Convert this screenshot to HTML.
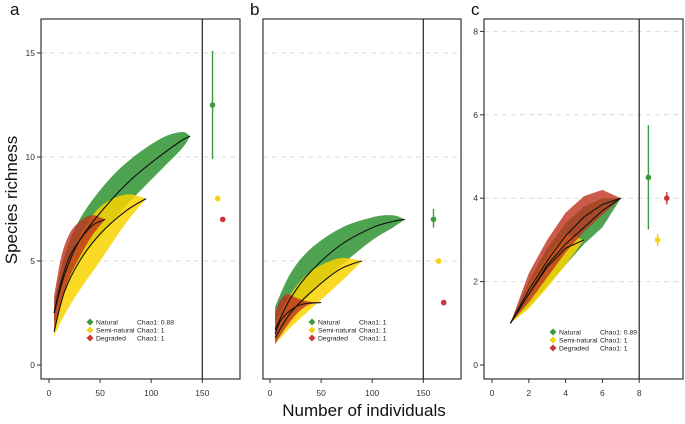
<!DOCTYPE html>
<html><head><meta charset="utf-8"><style>
body{margin:0;background:#fff;}
svg{display:block;font-family:"Liberation Sans",Arial,sans-serif;}
</style></head><body>
<svg id="chart" width="685" height="424" viewBox="0 0 685 424" xmlns="http://www.w3.org/2000/svg"></svg>
<script>
// ---------- data ----------
const groups = ["Natural", "Semi-natural", "Degraded"];
const chaoA = ["0.88", "1", "1"];
const chaoB = ["1", "1", "1"];
const chaoC = ["0.89", "1", "1"];
// Panel a
const aNatX = [5, 15, 30, 55, 80, 110, 130, 138];
const aNatMean = [2.5, 4.3, 6.0, 7.6, 8.9, 10.1, 10.8, 11];
const aNatUp = [3.0, 5.2, 7.0, 8.7, 9.9, 10.9, 11.2, 11];
const aNatLo = [2.0, 3.5, 5.0, 6.5, 7.9, 9.4, 10.4, 11];
const aSemX = [5, 15, 30, 50, 75, 95];
const aSemMean = [1.6, 3.5, 5.0, 6.3, 7.4, 8];
const aSemUp = [1.8, 4.5, 6.2, 7.6, 8.2, 8];
const aSemLo = [1.4, 2.4, 3.6, 5.0, 6.8, 8];
const aDegX = [5, 12, 20, 30, 42, 55];
const aDegMean = [2.5, 4.0, 5.2, 6.0, 6.7, 7];
const aDegUp = [3.3, 5.2, 6.3, 6.9, 7.2, 7];
const aDegLo = [1.7, 3.0, 4.2, 5.2, 6.2, 7];
const aEstX = [160, 165, 170];
const aEst = [12.5, 8, 7];
const aEstLo = [9.9, 8, 7];
const aEstHi = [15.1, 8, 7];
// Panel b
const bNatX = [5, 20, 40, 70, 100, 120, 132];
const bNatMean = [1.7, 3.2, 4.5, 5.8, 6.6, 6.9, 7];
const bNatUp = [2.8, 4.4, 5.6, 6.6, 7.1, 7.2, 7];
const bNatLo = [1.2, 2.3, 3.4, 4.8, 6.0, 6.6, 7];
const bSemX = [5, 20, 40, 65, 80, 90];
const bSemMean = [1.3, 2.5, 3.5, 4.5, 4.85, 5];
const bSemUp = [2.0, 3.4, 4.5, 5.1, 5.1, 5];
const bSemLo = [1.0, 1.8, 2.7, 3.8, 4.5, 5];
const bDegX = [5, 10, 17, 27, 38, 50];
const bDegMean = [1.5, 2.1, 2.5, 2.85, 2.97, 3];
const bDegUp = [2.5, 3.1, 3.4, 3.2, 3.05, 3];
const bDegLo = [1.0, 1.4, 1.9, 2.5, 2.9, 3];
const bEstX = [160, 165, 170];
const bEst = [7, 5, 3];
const bEstLo = [6.6, 5, 3];
const bEstHi = [7.5, 5, 3];
// Panel c
const cNatX = [1, 2, 3, 4, 5, 6, 7];
const cNatMean = [1, 1.8, 2.5, 3.1, 3.55, 3.85, 4];
const cNatUp = [1, 2.0, 2.8, 3.4, 3.8, 4.0, 4];
const cNatLo = [1, 1.4, 1.9, 2.4, 2.9, 3.3, 4];
const cSemX = [1, 2, 3, 4, 5];
const cSemMean = [1, 1.7, 2.35, 2.8, 3];
const cSemUp = [1, 1.9, 2.6, 3.15, 3];
const cSemLo = [1, 1.35, 1.85, 2.4, 3];
const cDegX = [1, 2, 3, 4, 5, 6, 7];
const cDegMean = [1, 1.7, 2.4, 2.9, 3.3, 3.7, 4];
const cDegUp = [1, 2.2, 3.0, 3.65, 4.05, 4.2, 4];
const cDegLo = [1, 1.5, 2.1, 2.7, 3.2, 3.6, 4];
const cEstX = [8.5, 9, 9.5];
const cEst = [4.5, 3, 4];
const cEstLo = [3.25, 2.85, 3.85];
const cEstHi = [5.75, 3.15, 4.15];
const xTicksAB = [0, 50, 100, 150];
const yTicksAB = [0, 5, 10, 15];
const xTicksC = [0, 2, 4, 6, 8];
const yTicksC = [0, 2, 4, 6, 8];

// ---------- drawing ----------
const NS = "http://www.w3.org/2000/svg";
const svg = document.getElementById("chart");
const fills = ["rgba(52,150,56,0.88)", "rgba(250,212,0,0.85)", "rgba(190,50,30,0.8)"];
const dots = ["#3c9a3f", "#f4d20e", "#c8383a"];
function mk(tag, attrs, parent) {
  const e = document.createElementNS(NS, tag);
  for (const k in attrs) e.setAttribute(k, attrs[k]);
  (parent || svg).appendChild(e);
  return e;
}
function smoothPath(pts) {
  let d = "M" + pts[0][0] + "," + pts[0][1];
  for (let i = 0; i < pts.length - 1; i++) {
    const p0 = pts[i - 1] || pts[i], p1 = pts[i], p2 = pts[i + 1], p3 = pts[i + 2] || p2;
    const c1 = [p1[0] + (p2[0] - p0[0]) / 6, p1[1] + (p2[1] - p0[1]) / 6];
    const c2 = [p2[0] - (p3[0] - p1[0]) / 6, p2[1] - (p3[1] - p1[1]) / 6];
    d += " C" + c1 + " " + c2 + " " + p2;
  }
  return d;
}
function linPath(pts) { return "M" + pts.map(p => p.join(",")).join(" L"); }

function panel(cfg) {
  const g = mk("g", {});
  
  
  const sx = v => cfg.x0 + (v - cfg.xmin) * cfg.kx;
  const sy = v => cfg.y0 - v * cfg.ky;
  const pathFn = cfg.smooth ? smoothPath : linPath;
  cfg.gridTicks.forEach(t => {
    if (t === 0) return;
    const l = mk("line", {x1: cfg.left, x2: cfg.right, y1: sy(t), y2: sy(t), stroke: "#dcdcdc", "stroke-width": 1, "stroke-dasharray": "5,4"}, g);
    
    
  });
  cfg.series.forEach((s, i) => {
    const up = s.x.map((x, j) => [sx(x), sy(s.up[j])]);
    const lo = s.x.map((x, j) => [sx(x), sy(s.lo[j])]).reverse();
    let d = pathFn(up) + " " + pathFn(lo).replace("M", "L") + " Z";
    const b = mk("path", {d: d, fill: fills[i], stroke: "none"}, g);
    
    
  });
  cfg.series.forEach((s, i) => {
    const pts = s.x.map((x, j) => [sx(x), sy(s.mean[j])]);
    const m = mk("path", {d: pathFn(pts), fill: "none", stroke: "#111", "stroke-width": 1.1}, g);
    
    
  });
  cfg.estX.forEach((x, i) => {
    const e = mk("line", {x1: sx(x), x2: sx(x), y1: sy(cfg.estLo[i]), y2: sy(cfg.estHi[i]), stroke: dots[i], "stroke-width": 1.4}, g);
    
    
    const c = mk("circle", {cx: sx(x), cy: sy(cfg.est[i]), r: 2.8, fill: dots[i]}, g);
    
    
  });
  const box = mk("rect", {x: cfg.left, y: 19, width: cfg.right - cfg.left, height: 360, fill: "none", stroke: "#333", "stroke-width": 1.2}, g);
  
  
  const dv = mk("line", {x1: sx(cfg.divider), x2: sx(cfg.divider), y1: 19, y2: 379, stroke: "#222", "stroke-width": 1.2}, g);
  
  
  cfg.xTicks.forEach(t => {
    const tl = mk("line", {x1: sx(t), x2: sx(t), y1: 379, y2: 383, stroke: "#333"}, g);
    
    
    const tx = mk("text", {x: sx(t), y: 396, "font-size": 8.5, fill: "#333", "text-anchor": "middle"}, g);
    tx.textContent = t;
    
    
  });
  cfg.yTicks.forEach(t => {
    const tl = mk("line", {x1: cfg.left - 4, x2: cfg.left, y1: sy(t), y2: sy(t), stroke: "#333"}, g);
    
    
    const tx = mk("text", {x: cfg.left - 6, y: sy(t) + 3, "font-size": 8.5, fill: "#333", "text-anchor": "end"}, g);
    tx.textContent = t;
    
    
  });
  const lb = mk("text", {x: cfg.labelX, y: 15, "font-size": 17, fill: "#111"}, g);
  lb.textContent = cfg.label;
  
  
  groups.forEach((n, i) => {
    const ly = cfg.legY + i * 8;
    const lx = cfg.legX;
    const dm = mk("path", {d: `M${lx},${ly - 3.5} L${lx + 3.5},${ly} L${lx},${ly + 3.5} L${lx - 3.5},${ly} Z`, fill: dots[i]}, g);
    
    
    const t1 = mk("text", {x: lx + 6, y: ly + 2.5, "font-size": 6.8, fill: "#222"}, g);
    t1.textContent = n;
    
    
    const t2 = mk("text", {x: lx + 47, y: ly + 2.5, "font-size": 6.8, fill: "#222"}, g);
    t2.textContent = "Chao1: " + cfg.chao[i];
    
    
  });
}

panel({label: "a", labelX: 10, left: 41, right: 240, x0: 49, xmin: 0, kx: 1.022, y0: 365, ky: 20.8, smooth: true, divider: 150,
  xTicks: xTicksAB, yTicks: yTicksAB, gridTicks: yTicksAB, legX: 90, legY: 322, chao: chaoA,
  series: [
    {x: aNatX, mean: aNatMean, up: aNatUp, lo: aNatLo},
    {x: aSemX, mean: aSemMean, up: aSemUp, lo: aSemLo},
    {x: aDegX, mean: aDegMean, up: aDegUp, lo: aDegLo}],
  estX: aEstX, est: aEst, estLo: aEstLo, estHi: aEstHi});
panel({label: "b", labelX: 250, left: 263, right: 461, x0: 270, xmin: 0, kx: 1.022, y0: 365, ky: 20.8, smooth: true, divider: 150,
  xTicks: xTicksAB, yTicks: [], gridTicks: yTicksAB, legX: 312, legY: 322, chao: chaoB,
  series: [
    {x: bNatX, mean: bNatMean, up: bNatUp, lo: bNatLo},
    {x: bSemX, mean: bSemMean, up: bSemUp, lo: bSemLo},
    {x: bDegX, mean: bDegMean, up: bDegUp, lo: bDegLo}],
  estX: bEstX, est: bEst, estLo: bEstLo, estHi: bEstHi});
panel({label: "c", labelX: 471, left: 484, right: 683, x0: 492, xmin: 0, kx: 18.4, y0: 365, ky: 41.7, smooth: false, divider: 8,
  xTicks: xTicksC, yTicks: yTicksC, gridTicks: yTicksC, legX: 553, legY: 332, chao: chaoC,
  series: [
    {x: cNatX, mean: cNatMean, up: cNatUp, lo: cNatLo},
    {x: cSemX, mean: cSemMean, up: cSemUp, lo: cSemLo},
    {x: cDegX, mean: cDegMean, up: cDegUp, lo: cDegLo}],
  estX: cEstX, est: cEst, estLo: cEstLo, estHi: cEstHi});

const yt = mk("text", {x: 0, y: 0, "font-size": 17, fill: "#111", "text-anchor": "middle", transform: "translate(17,200) rotate(-90)"});
yt.textContent = "Species richness";


const xt = mk("text", {x: 364, y: 416, "font-size": 17, fill: "#111", "text-anchor": "middle"});
xt.textContent = "Number of individuals";


</script>
</body></html>
